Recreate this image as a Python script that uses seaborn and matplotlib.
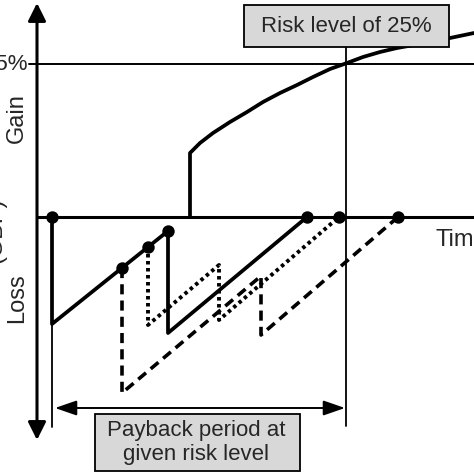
import numpy as np
import pandas as pd
import seaborn as sns
import matplotlib.pyplot as plt
from matplotlib.patches import Rectangle

# === Data (time units; value units, 0 = break-even) ===
gain_t = [15.3, 15.3, 16.3, 17.6, 19.3, 21.0, 22.6, 24.3, 26.0, 27.6, 29.3,
          31.0, 32.6, 34.3, 36.0, 37.7, 39.3, 41.3, 43.7]
gain_v = [0.0, 6.4, 7.4, 8.4, 9.5, 10.5, 11.5, 12.4, 13.2, 14.0, 14.8,
          15.4, 16.0, 16.5, 16.9, 17.2, 17.5, 17.9, 18.4]

solid_t = [1.5, 1.5, 13.1, 13.1, 27.0]
solid_v = [0.0, -10.7, -1.4, -11.6, 0.0]

dotted_t = [11.1, 11.1, 18.2, 18.2, 30.2]
dotted_v = [-3.0, -10.8, -4.8, -10.3, 0.0]

dashed_t = [8.5, 8.5, 22.4, 22.4, 36.1]
dashed_v = [-5.1, -17.6, -5.9, -11.8, 0.0]

dots_t = [1.5, 8.5, 11.1, 13.1, 27.0, 30.2, 36.1]
dots_v = [0.0, -5.1, -3.0, -1.4, 0.0, 0.0, 0.0]

risk_value = 15.3      # the 25% level
risk_label = '25%'
payback_time = 30.9    # where the gain curve crosses the risk level
start_time = 1.5

# === Style ===
sns.set_theme(style='white')
plt.rcParams['font.family'] = ['Liberation Sans', 'DejaVu Sans']

fig = plt.figure(figsize=(4.74, 4.74), dpi=100, facecolor='white')
ax = fig.add_axes([0, 0, 1, 1])
ax.set_xlim(-3.7, 43.7)
ax.set_ylim(-25.7, 21.7)
ax.axis('off')

# axes of the diagram
ax.annotate('', xy=(0, 21.4), xytext=(0, -22.3),
            arrowprops=dict(arrowstyle='<|-|>,head_length=0.9,head_width=0.45',
                            lw=2.2, color='black', shrinkA=0, shrinkB=0))
ax.plot([0, 43.7], [0, 0], color='black', lw=2.2, zorder=3)
ax.plot([-0.8, 43.7], [risk_value, risk_value], color='black', lw=1.4)
ax.plot([payback_time, payback_time], [17.0, -20.9], color='black', lw=1.3)
ax.plot([start_time, start_time], [0, -21.0], color='black', lw=1.3)

# gain curve
sns.lineplot(x=gain_t, y=gain_v, sort=False, estimator=None, color='black',
             lw=2.7, ax=ax, zorder=2)

# loss paths
sns.lineplot(x=dashed_t, y=dashed_v, sort=False, estimator=None, color='black',
             lw=2.6, linestyle=(0, (2.8, 1.7)), ax=ax, zorder=3)
sns.lineplot(x=dotted_t, y=dotted_v, sort=False, estimator=None, color='black',
             lw=2.8, linestyle=(0, (0.9, 0.9)), ax=ax, zorder=3)
sns.lineplot(x=solid_t, y=solid_v, sort=False, estimator=None, color='black',
             lw=2.7, ax=ax, zorder=4)
sns.scatterplot(x=dots_t, y=dots_v, color='black', s=80, edgecolor='black',
                linewidth=0, ax=ax, zorder=5)

# payback arrow
ax.annotate('', xy=(payback_time - 0.1, -19.1), xytext=(1.8, -19.1),
            arrowprops=dict(arrowstyle='<|-|>,head_length=1.1,head_width=0.38',
                            lw=1.4, color='black', shrinkA=0, shrinkB=0))

# text boxes
ax.add_patch(Rectangle((20.7, 17.0), 20.5, 4.2, facecolor='#d8d8d8',
                       edgecolor='black', lw=1.3, zorder=6))
ax.text(payback_time, 19.1, 'Risk level of 25%', fontsize=16, ha='center',
        va='center', zorder=7)
ax.add_patch(Rectangle((5.8, -25.4), 20.5, 5.7, facecolor='#d8d8d8',
                       edgecolor='black', lw=1.3, zorder=6))
ax.text(15.9, -22.55, 'Payback period at\ngiven risk level', fontsize=16,
        ha='center', va='center', linespacing=1.15, zorder=7)

# labels
ax.text(-0.9, risk_value, risk_label, fontsize=16, ha='right', va='center')
ax.text(-2.0, 9.9, 'Gain', fontsize=17, rotation=90, ha='center', va='center')
ax.text(-2.0, -8.1, 'Loss', fontsize=17, rotation=90, ha='center', va='center')
ax.text(-4.1, -1.3, '(GBP)', fontsize=17, rotation=90, ha='center', va='center')
ax.text(39.8, -2.3, 'Time', fontsize=17, ha='left', va='center')

plt.savefig('out.png', dpi=100, facecolor='white')
